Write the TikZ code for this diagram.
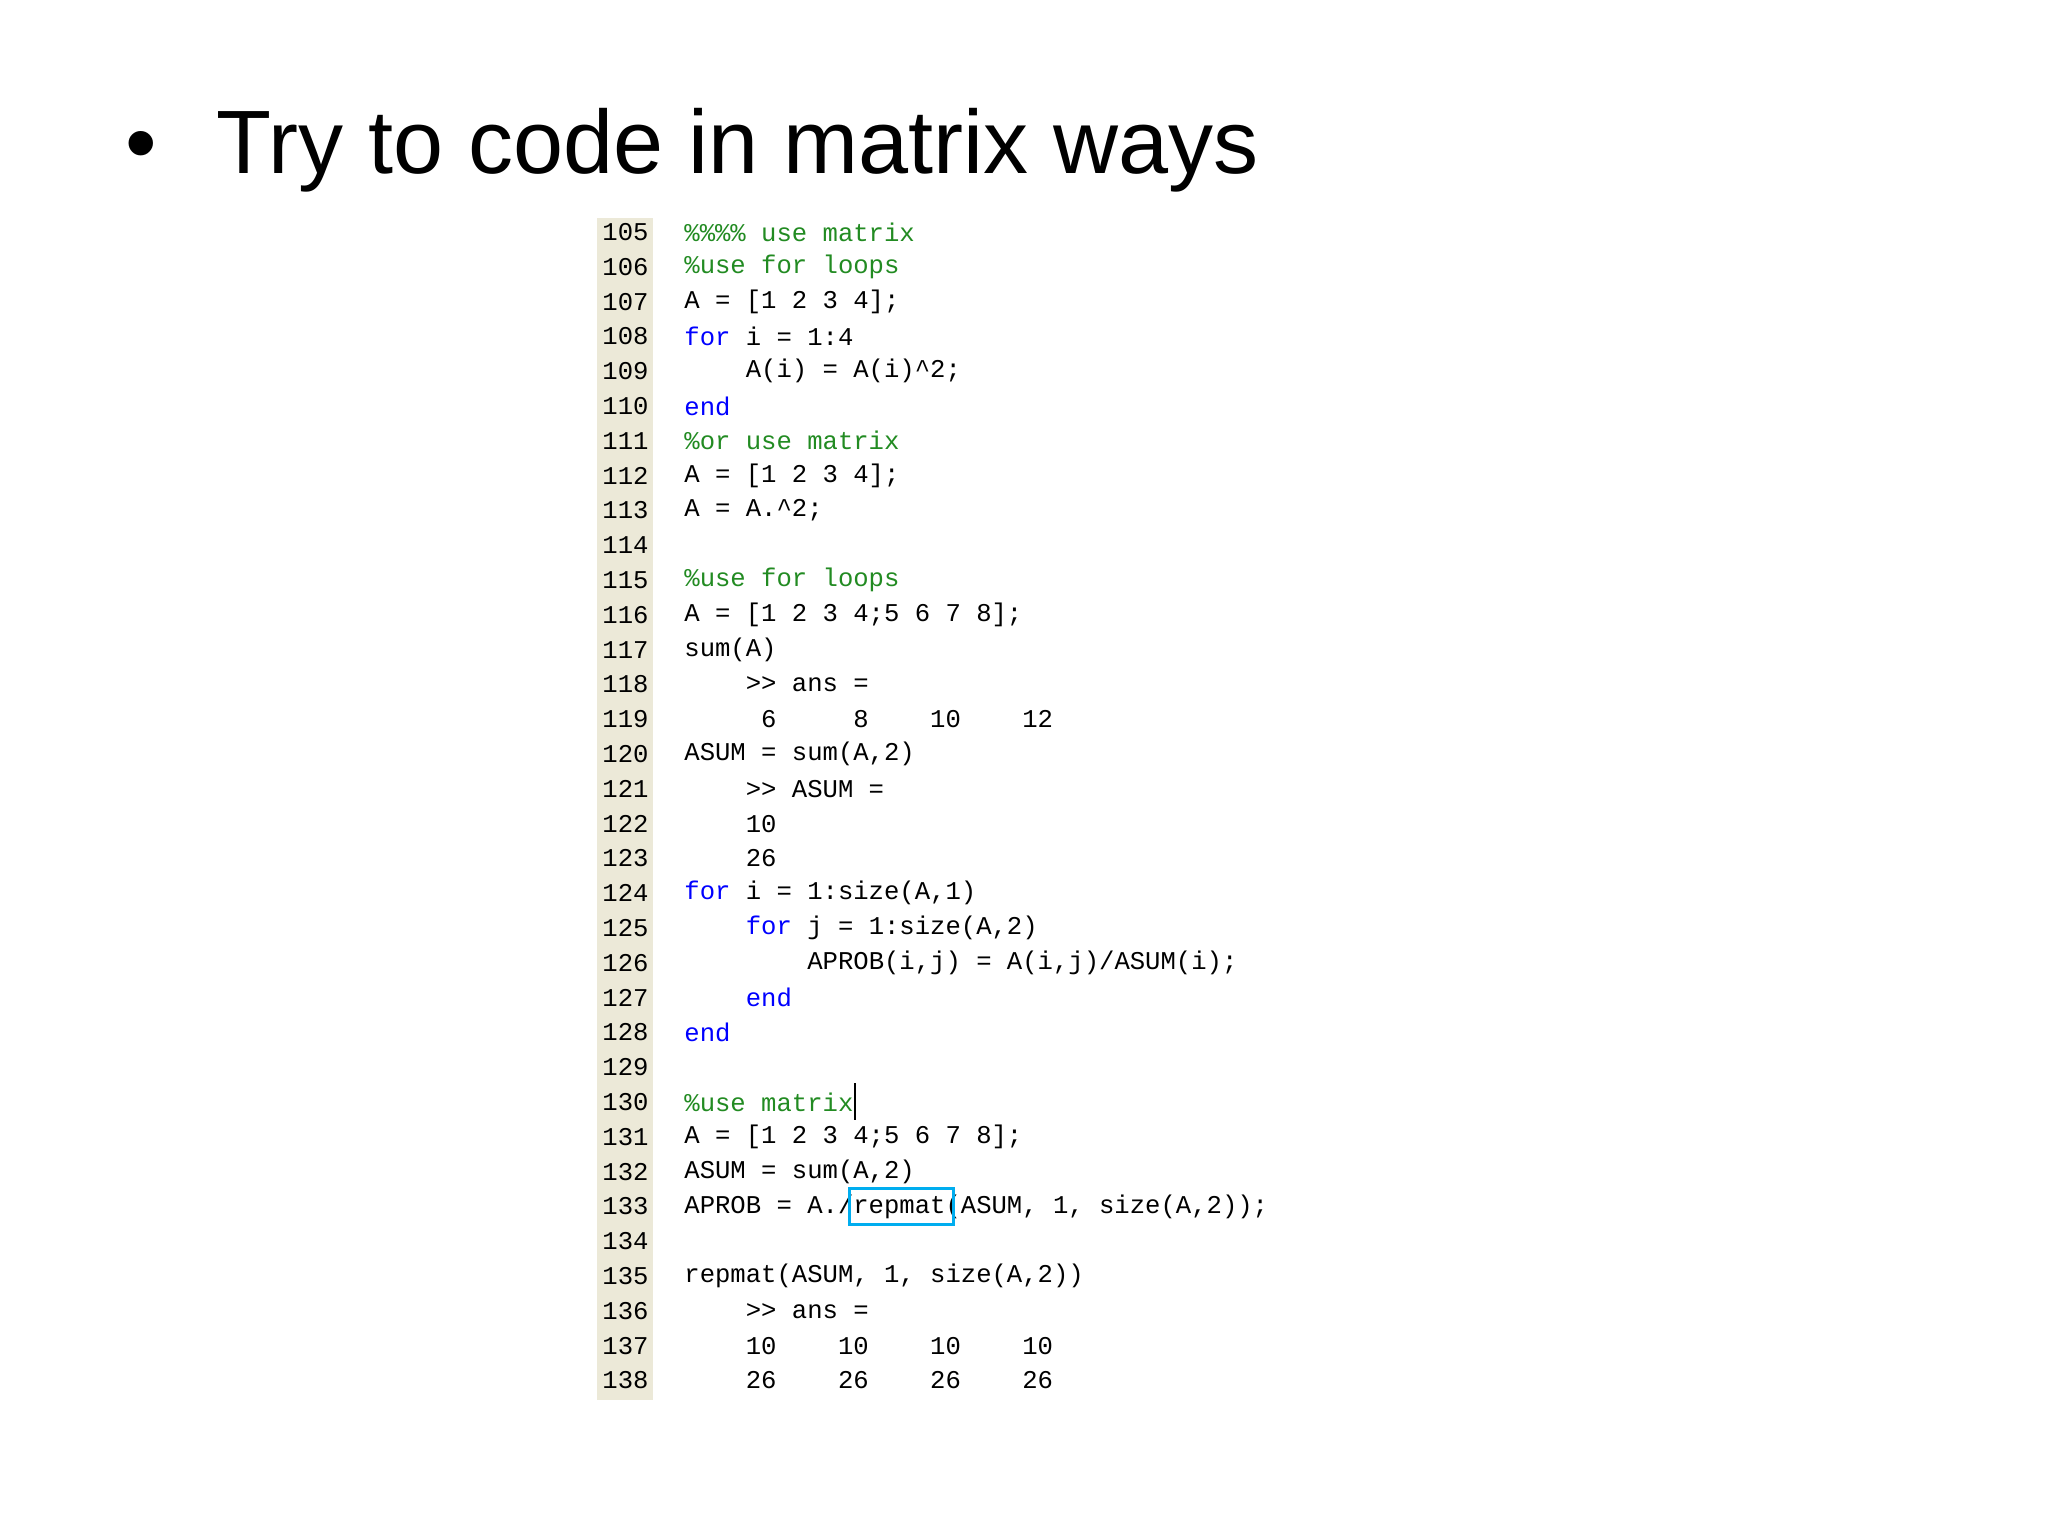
\documentclass[tikz,border=0pt]{standalone}
\usepackage{fontspec}
\setmainfont{Liberation Sans}
\setmonofont{Liberation Mono}
\definecolor{cmt}{RGB}{34,139,34}
\definecolor{kw}{RGB}{0,0,255}
\definecolor{gut}{RGB}{236,233,216}
\newcommand{\cm}[1]{\textcolor{cmt}{#1}}
\newcommand{\kw}[1]{\textcolor{kw}{#1}}
\newcommand{\crt}{\textasciicircum}
\newcommand{\prm}{\textgreater\textgreater}
\begin{document}
\begin{tikzpicture}[x=0.5pt,y=-0.5pt,
  code/.style={anchor=west,inner sep=0pt,font=\fontsize{12.8pt}{14pt}\ttfamily},
  num/.style={anchor=west,inner sep=0pt,font=\fontsize{12.8pt}{14pt}\ttfamily}]
\useasboundingbox (0,0) rectangle (2048,1536);
\fill[white] (0,0) rectangle (2048,1536);
\node[anchor=west,inner sep=0pt,font=\fontsize{45pt}{50pt}\selectfont] (title) at (125,150) {\textbullet\hspace{30pt}Try to code in matrix ways};
\fill[gut] (597,218) rectangle (653,1400);
\foreach \n in {105,...,138} {
  \node[num] (n\n) at (602,{232+34.8*(\n-105)}) {\n};
}
\newcommand{\cl}[2]{\node[code] (c#1) at (684,{232+34.8*(#1-105)}) {#2};}
\cl{105}{\cm{\%\%\%\%~use~matrix}}
\cl{106}{\cm{\%use~for~loops}}
\cl{107}{A~=~[1~2~3~4];}
\cl{108}{\kw{for}~i~=~1:4}
\cl{109}{~~~~A(i)~=~A(i)\crt2;}
\cl{110}{\kw{end}}
\cl{111}{\cm{\%or~use~matrix}}
\cl{112}{A~=~[1~2~3~4];}
\cl{113}{A~=~A.\crt2;}
\cl{115}{\cm{\%use~for~loops}}
\cl{116}{A~=~[1~2~3~4;5~6~7~8];}
\cl{117}{sum(A)}
\cl{118}{~~~~\prm{}~ans~=}
\cl{119}{~~~~~6~~~~~8~~~~10~~~~12}
\cl{120}{ASUM~=~sum(A,2)}
\cl{121}{~~~~\prm{}~ASUM~=}
\cl{122}{~~~~10}
\cl{123}{~~~~26}
\cl{124}{\kw{for}~i~=~1:size(A,1)}
\cl{125}{~~~~\kw{for}~j~=~1:size(A,2)}
\cl{126}{~~~~~~~~APROB(i,j)~=~A(i,j)/ASUM(i);}
\cl{127}{~~~~\kw{end}}
\cl{128}{\kw{end}}
\cl{130}{\cm{\%use~matrix}}
\cl{131}{A~=~[1~2~3~4;5~6~7~8];}
\cl{132}{ASUM~=~sum(A,2)}
\cl{133}{APROB~=~A./repmat(ASUM,~1,~size(A,2));}
\cl{135}{repmat(ASUM,~1,~size(A,2))}
\cl{136}{~~~~\prm{}~ans~=}
\cl{137}{~~~~10~~~~10~~~~10~~~~10}
\cl{138}{~~~~26~~~~26~~~~26~~~~26}
\draw[cyan,line width=1.5pt] (849,1188) rectangle (953,1224);
\draw[line width=1pt] (855,1083) -- (855,1120);
\end{tikzpicture}
\end{document}
